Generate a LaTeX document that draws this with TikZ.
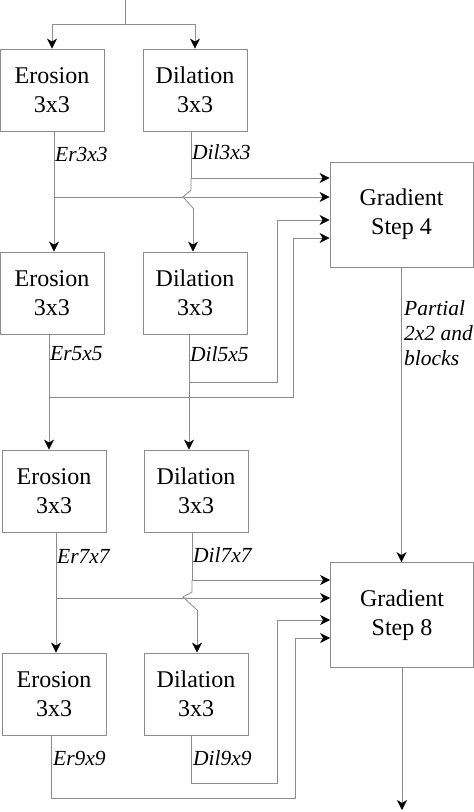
\documentclass[tikz,border=0pt]{standalone}
\usepackage{fontspec}
\setmainfont{Liberation Serif}
\usetikzlibrary{arrows.meta,positioning}

\definecolor{wiregray}{RGB}{140,140,140}

\tikzset{
  opbox/.style={draw=wiregray, line width=0.8pt, minimum width=104pt, minimum height=82pt,
    align=center, inner sep=0pt, font=\rmfamily\fontsize{24}{29}\selectfont},
  gradbox/.style={opbox, minimum width=143pt, minimum height=105pt},
  wire/.style={draw=wiregray, line width=0.8pt},
  feed/.style={wire, -{Stealth[length=10pt,width=10pt,inset=3pt,color=black]}},
  sig/.style={anchor=west, inner sep=1pt, font=\rmfamily\itshape\fontsize{21.5}{25}\selectfont},
}

\begin{document}
\begin{tikzpicture}[x=1pt,y=-1pt]
  \path[use as bounding box, fill=white] (0,0) rectangle (474,812);
  %\draw[color=gray,step=10, help lines,opacity=0.3] (0,0) grid (474,812); %help grid

  % morphology blocks
  \node[opbox] (er1) at (52,90)  {Erosion\\3x3};
  \node[opbox] (dl1) at (195,90) {Dilation\\3x3};
  \node[opbox] (er2) at (52,293) {Erosion\\3x3};
  \node[opbox] (dl2) at (195,293) {Dilation\\3x3};
  \node[opbox] (er3) at (54,491) {Erosion\\3x3};
  \node[opbox] (dl3) at (196,491) {Dilation\\3x3};
  \node[opbox] (er4) at (54,694) {Erosion\\3x3};
  \node[opbox] (dl4) at (196,694) {Dilation\\3x3};

  % gradient blocks
  \node[gradbox] (g4) at (401.5,214.5) {Gradient\\Step 4};
  \node[gradbox] (g8) at (402,615) {Gradient\\Step 8};

  % input
  \coordinate (in) at (125,0);
  \coordinate (split) at (125,24);
  \draw[wire] (in) -- (split);
  \draw[feed] (split) -| (er1.north);
  \draw[feed] (split) -| (dl1.north);

  % first stage
  \coordinate (e1) at (54,197);
  \coordinate (d1) at (191,178);
  \coordinate (d1j) at (193,208);
  \draw[wire] (er1.south -| e1) -- (e1);
  \draw[feed] (e1) -- (e1 -| g4.west);
  \draw[feed] (e1) -- (er2.north -| e1);
  \draw[wire] (dl1.south -| d1) -- (d1);
  \draw[feed] (d1) -- (d1 -| g4.west);
  \draw[wire] (d1) -- ++(0,12) -- ++(-8,7) -- (d1j);
  \draw[feed] (d1j) -- (d1j |- dl2.north);
  \node[sig] (ler1) at (54,154) {Er3x3};
  \node[sig] (ldl1) at (191,152) {Dil3x3};

  % second stage
  \coordinate (e2) at (49,397);
  \coordinate (d2) at (189,382);
  \coordinate (g4b) at (277,220);
  \coordinate (g4c) at (293,238);
  \draw[wire] (er2.south -| e2) -- (e2);
  \draw[feed] (e2) -- (er3.north -| e2);
  \draw[feed] (e2) -| (g4c) -- (g4c -| g4.west);
  \draw[wire] (dl2.south -| d2) -- (d2);
  \draw[feed] (d2) -- (dl3.north -| d2);
  \draw[feed] (d2) -| (g4b) -- (g4b -| g4.west);
  \node[sig] (ler2) at (49,354) {Er5x5};
  \node[sig] (ldl2) at (189,354) {Dil5x5};

  % gradient 4 -> gradient 8
  \draw[feed] (g4.south) -- (g4.south |- g8.north);
  \node[sig, anchor=north west, align=left] (lpart) at (403,299) {Partial\\2x2 and\\blocks};

  % third stage
  \coordinate (e3) at (56,598);
  \coordinate (d3) at (192,580);
  \coordinate (d3j) at (197,610);
  \draw[wire] (er3.south -| e3) -- (e3);
  \draw[feed] (e3) -- (e3 -| g8.west);
  \draw[feed] (e3) -- (er4.north -| e3);
  \draw[wire] (dl3.south -| d3) -- (d3);
  \draw[feed] (d3) -- (d3 -| g8.west);
  \draw[wire] (d3) -- ++(0,12) -- ++(-9,5) -- (d3j);
  \draw[feed] (d3j) -- (d3j |- dl4.north);
  \node[sig] (ler3) at (56,556) {Er7x7};
  \node[sig] (ldl3) at (192,555) {Dil7x7};

  % fourth stage
  \coordinate (e4) at (51,798);
  \coordinate (d4) at (191,783);
  \coordinate (g8b) at (277,620);
  \coordinate (g8c) at (295,638);
  \draw[wire] (er4.south -| e4) -- (e4);
  \draw[feed] (e4) -| (g8c) -- (g8c -| g8.west);
  \draw[wire] (dl4.south -| d4) -- (d4);
  \draw[feed] (d4) -| (g8b) -- (g8b -| g8.west);
  \node[sig] (ler4) at (52,758) {Er9x9};
  \node[sig] (ldl4) at (192,758) {Dil9x9};

  % output
  \coordinate (out) at (403,810);
  \draw[feed] (g8.south) -- (g8.south |- out);
\end{tikzpicture}
\end{document}
